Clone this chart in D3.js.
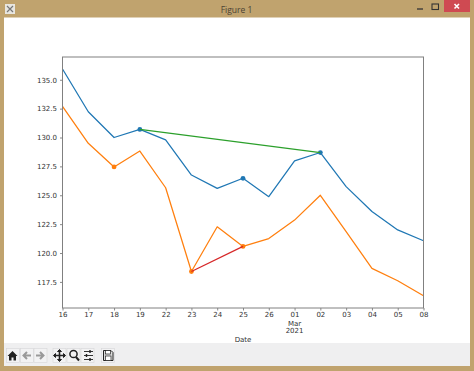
<!DOCTYPE html>
<html><head><meta charset="utf-8">
<script src="https://cdn.jsdelivr.net/npm/d3@7"></script>
<style>
html,body{margin:0;padding:0;background:#fff;overflow:hidden}
svg{display:block;font-family:"DejaVu Sans",sans-serif}
</style></head><body><svg id="c" width="474" height="371"></svg>
<script>
const dates=["16","17","18","19","22","23","24","25","26","01","02","03","04","05","08"];
const blueSeries=[135.93,132.23,130.0,130.7,129.8,126.75,125.6,126.47,124.88,127.97,128.7,125.75,123.6,122.0,121.06];
const orangeSeries=[132.7,129.5,127.45,128.83,125.65,118.4,122.27,120.57,121.25,122.85,125.0,121.85,118.67,117.6,116.3];
const blueMarkers=["19","25","02"];
const orangeMarkers=["18","23","25"];
const greenSegment=[["19",130.7],["02",128.7]];
const redSegment=[["23",118.4],["25",120.57]];
const yTicks=[117.5,120,122.5,125,127.5,130,132.5,135];
const monthLabel=["Mar","2021"];
const xTitle="Date";
const windowTitle="Figure 1";

const svg=d3.select("#c");
const chrome="#c0a36e";
// window frame
svg.append("rect").attr("width",474).attr("height",371).attr("fill",chrome);
svg.append("rect").attr("x",4).attr("y",17.5).attr("width",466).attr("height",348.5).attr("fill","#fff");
svg.append("rect").attr("x",4).attr("y",343).attr("width",466).attr("height",23).attr("fill","#efeff0");
svg.append("text").attr("x",236.5).attr("y",12.5).attr("text-anchor","middle").attr("font-size",8.5).attr("fill","#4a4234").attr("font-family","'Open Sans',sans-serif").text(windowTitle);
// window buttons
svg.append("rect").attr("x",444).attr("y",0).attr("width",26).attr("height",12).attr("fill","#cf4a52");
svg.append("path").attr("d","M454.500 4L459 8.500M459 4L454.500 8.500").attr("stroke","#fff").attr("stroke-width",1.6);
svg.append("path").attr("d","M417 9H423").attr("stroke","#333").attr("stroke-width",1.3);
svg.append("rect").attr("x",432).attr("y",4).attr("width",6.500).attr("height",5.500).attr("fill","none").attr("stroke","#333").attr("stroke-width",1.1);
// app icon
svg.append("rect").attr("x",5).attr("y",4).attr("width",10).attr("height",10).attr("fill","#e8e6e0");
svg.append("path").attr("d","M7 6L13 12M13 6L7 12").attr("stroke","#777").attr("stroke-width",1.2);

const x=d3.scalePoint().domain(dates).range([62.5,423.5]);
const y=d3.scaleLinear().domain([115.24,136.97]).range([308,57]);
const g=svg.append("g");
const line=d3.line().x(d=>x(d[0])).y(d=>y(d[1]));
const pair=s=>dates.map((d,i)=>[d,s[i]]);
const c={b:"#1f77b4",o:"#ff7f0e",g:"#2ca02c",r:"#d62728"};
const draw=(data,col)=>g.append("path").attr("d",line(data)).attr("fill","none").attr("stroke",col).attr("stroke-width",1.25).attr("stroke-linejoin","round");
draw(pair(blueSeries),c.b);
draw(pair(orangeSeries),c.o);
const dots=(keys,s,col)=>g.selectAll(null).data(keys).join("circle").attr("cx",d=>x(d)).attr("cy",d=>y(s[dates.indexOf(d)])).attr("r",2.4).attr("fill",col);
dots(blueMarkers,blueSeries,c.b);
dots(orangeMarkers,orangeSeries,c.o);
draw(greenSegment,c.g);
draw(redSegment,c.r);

// axes
const ax=d3.axisBottom(x).tickSize(2.5).tickPadding(1.5);
const ay=d3.axisLeft(y).tickValues(yTicks).tickFormat(d3.format(".1f")).tickSize(2.5).tickPadding(3);
const gx=svg.append("g").attr("transform","translate(0,308)").call(ax);
const gy=svg.append("g").attr("transform","translate(62.5,0)").call(ay);
[gx,gy].forEach(a=>{a.selectAll("text").attr("font-size",7).attr("fill","#333").attr("font-family","'DejaVu Sans'");a.selectAll("line").attr("stroke","#555").attr("stroke-width",.7);a.select(".domain").remove();});
// frame
svg.append("rect").attr("x",62.5).attr("y",57).attr("width",361).attr("height",251).attr("fill","none").attr("stroke","#808080").attr("stroke-width",1);
// minor labels
const mx=x("01");
monthLabel.forEach((t,i)=>svg.append("text").attr("x",mx).attr("y",325.5+i*7.6).attr("text-anchor","middle").attr("font-size",7).attr("fill","#333").text(t));
svg.append("text").attr("x",243).attr("y",341.8).attr("text-anchor","middle").attr("font-size",7).attr("fill","#333").text(xTitle);

// toolbar
const btn=(bx,w)=>svg.append("rect").attr("x",bx).attr("y",348.5).attr("width",w).attr("height",14).attr("fill","#f2f2f3").attr("stroke","#d6d6d8").attr("stroke-width",.6);
[[6.5,13],[20.5,13],[34,13],[53,13],[67,13],[81,13],[101.500,13]].forEach(b=>btn(b[0],b[1]));
const ic=svg.append("g");
ic.append("path").attr("d","M7.500 356L12.500 351L17.500 356H16V360.500H13.500V357.500H11.500V360.500H9V356Z").attr("fill","#222");
ic.append("path").attr("d","M31 355.500H24M27 352L23.500 355.500L27 359").attr("fill","none").attr("stroke","#999").attr("stroke-width",2);
ic.append("path").attr("d","M36 355.500H43M40 352L43.500 355.500L40 359").attr("fill","none").attr("stroke","#999").attr("stroke-width",2);
ic.append("path").attr("d","M59.500 350V361M54 355.500H65").attr("stroke","#222").attr("stroke-width",1.6);
ic.append("path").attr("d","M57.500 351.500L59.500 349.500L61.500 351.500ZM57.500 359.500L59.500 361.500L61.500 359.500ZM55.500 353.500L53.500 355.500L55.500 357.500ZM63.500 353.500L65.500 355.500L63.500 357.500Z").attr("fill","#222").attr("stroke","#222");
ic.append("circle").attr("cx",73.5).attr("cy",354).attr("r",3.6).attr("fill","none").attr("stroke","#222").attr("stroke-width",1.5);
ic.append("path").attr("d","M76 357L79 360.500").attr("stroke","#222").attr("stroke-width",2);
ic.append("path").attr("d","M84 351.500H93M84 355.500H93M84 359.500H93").attr("stroke","#333").attr("stroke-width",1);
ic.append("path").attr("d","M90 350V353M86.500 354V357M90 358V361").attr("stroke","#222").attr("stroke-width",1.4);
ic.append("path").attr("d","M103.500 350.500H111L113 352.500V360.500H103.500Z").attr("fill","#ddd").attr("stroke","#222").attr("stroke-width",1);
ic.append("rect").attr("x",105.500).attr("y",350.500).attr("width",5).attr("height",3.500).attr("fill","#fff").attr("stroke","#222").attr("stroke-width",.7);
ic.append("rect").attr("x",105.500).attr("y",356).attr("width",5.500).attr("height",4.500).attr("fill","#fff").attr("stroke","#222").attr("stroke-width",.7);
</script></body></html>
